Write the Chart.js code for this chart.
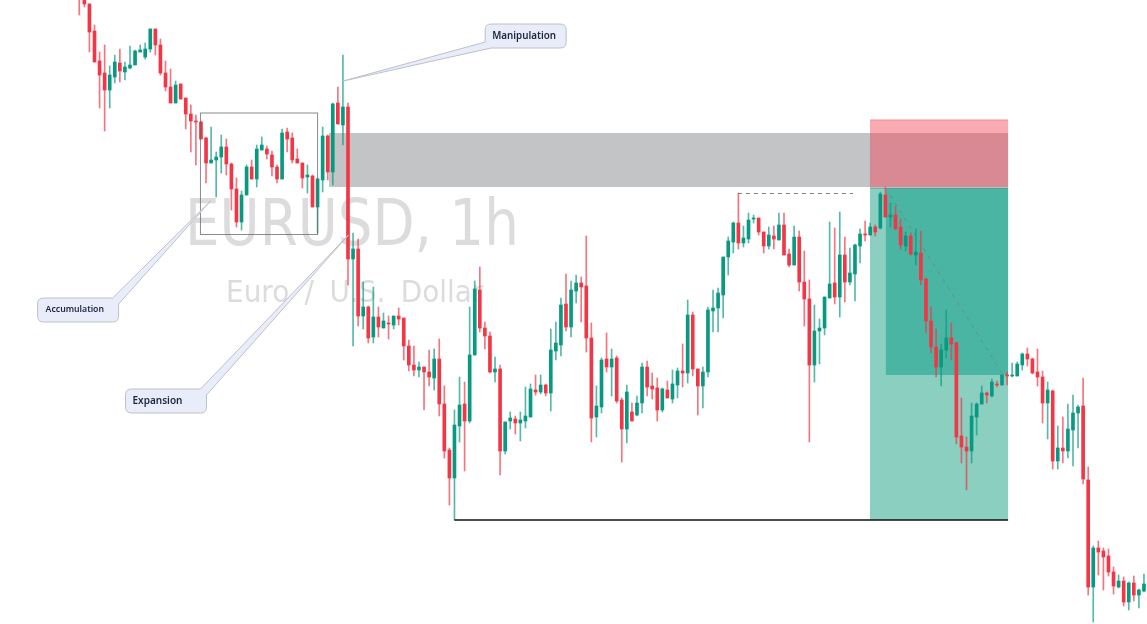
<!DOCTYPE html>
<html>
<head>
<meta charset="utf-8">
<title>EURUSD, 1h</title>
<script src="https://cdn.jsdelivr.net/npm/chart.js@4"></script>
<style>
    html, body { margin: 0; padding: 0; background: #ffffff; overflow: hidden; }
    canvas { display: block; }
</style>
</head>
<body>
<canvas id="priceChart" width="1147" height="624"></canvas>
<script>
// Candles in points above the lowest level of the window, one entry per hour
const opens = [
    644,629,620,593,563,551,534,547,561,552,
    556,559,572,567,575,595,579,551,537,521,
    540,526,510,503,502,486,461,464,467,477,
    460,435,402,429,457,445,474,475,469,457,
    445,492,486,465,461,447,448,417,444,488,
    452,521,499,517,365,375,308,317,287,307,
    296,301,299,308,306,278,259,254,257,252,
    246,265,220,174,146,198,220,203,269,334,
    296,288,252,255,173,203,205,201,203,207,
    234,232,239,231,273,279,320,297,333,341,
    338,286,207,217,265,257,266,224,195,212,
    209,221,257,238,236,214,234,225,239,253,
    251,309,255,238,252,313,316,329,367,382,
    401,381,385,405,406,392,378,388,384,399,
    370,359,387,342,325,259,293,296,326,341,
    327,369,342,350,378,390,389,397,396,429,
    407,409,397,378,388,369,371,345,303,277,
    257,274,286,281,188,177,173,207,220,231,
    228,240,239,249,248,248,259,270,265,252,
    247,221,233,163,176,173,194,211,218,144,
    37,76,73,68,52,37,43,22,41,29,
    33
];
const highs = [
    644,629,620,599,572,579,558,569,575,562,
    578,574,579,581,595,595,585,563,555,543,
    540,526,519,509,503,487,497,472,489,485,
    461,446,433,459,464,479,487,478,473,459,
    495,496,491,475,461,459,449,446,497,489,
    521,537,569,521,391,385,342,318,337,317,
    311,308,308,316,306,284,278,262,257,274,
    275,285,238,176,214,247,242,317,343,357,
    302,292,267,259,202,212,208,212,237,240,
    249,249,240,295,302,326,350,343,349,347,
    388,301,238,266,291,275,268,226,239,221,
    228,261,263,251,246,236,243,254,256,280,
    324,312,255,257,317,334,336,367,387,402,
    431,398,411,409,406,392,397,398,411,411,
    375,398,393,373,344,319,305,327,402,396,
    412,387,376,380,395,403,401,399,432,437,
    421,418,405,392,391,395,393,346,317,295,
    280,314,301,282,226,187,221,221,238,232,
    245,243,249,252,261,262,271,276,266,275,
    253,242,234,198,207,220,229,219,246,157,
    78,83,76,75,57,49,47,42,48,35,
    50
];
const lows = [
    609,617,572,562,516,493,516,541,542,544,
    555,559,572,565,572,569,549,533,521,521,
    525,495,472,459,485,441,461,427,451,449,
    414,397,394,429,445,437,474,465,448,441,
    445,472,461,461,436,431,417,391,432,444,
    439,500,479,339,278,298,295,281,281,287,
    296,285,295,299,264,253,248,247,214,238,
    234,208,166,119,104,182,153,201,269,292,
    275,251,242,149,170,195,190,183,196,207,
    229,230,228,213,264,268,293,287,321,302,
    272,182,187,211,252,228,221,162,181,203,
    208,211,228,225,203,212,226,221,226,237,
    241,248,209,216,247,292,292,306,349,371,
    375,377,381,401,389,371,375,375,384,369,
    357,359,333,298,182,242,260,289,326,320,
    307,322,339,323,361,383,389,388,395,407,
    397,395,375,373,369,359,339,291,271,247,
    238,266,264,180,161,134,161,189,220,221,
    227,237,239,239,247,248,254,258,250,238,
    201,185,155,155,161,166,158,176,140,29,
    2,49,34,48,30,36,18,14,23,16,
    32
];
const closes = [
    629,620,592,562,549,534,549,562,553,557,
    559,573,574,575,595,579,551,537,521,539,
    525,510,503,502,485,461,464,467,477,460,
    435,402,429,457,445,475,479,470,457,445,
    491,485,464,461,446,449,417,445,488,452,
    520,500,517,365,375,308,317,286,307,297,
    303,300,308,305,278,259,254,257,252,247,
    265,220,173,146,199,219,203,269,335,296,
    288,252,255,173,202,206,201,204,208,235,
    232,239,231,274,281,319,297,334,341,337,
    286,206,218,264,257,265,223,195,232,203,
    221,257,237,235,214,235,226,240,253,251,
    309,255,238,252,314,316,331,367,383,401,
    381,386,404,406,392,378,389,385,399,369,
    359,387,342,325,259,293,296,327,340,327,
    369,342,351,379,390,389,397,392,430,407,
    409,395,379,388,370,372,344,303,277,257,
    274,286,280,187,177,173,208,220,231,229,
    242,239,249,248,249,260,270,265,251,247,
    221,234,163,176,173,195,211,217,145,37,
    76,72,67,52,38,43,22,41,29,34,
    40
];

const UP = '#089981';
const DOWN = '#f23645';

const candleColors = closes.map((c, i) => (c >= opens[i] ? UP : DOWN));
const wickColors = candleColors.map(c => c + 'b0');
const wickData = highs.map((h, i) => ({ x: i, y: [lows[i], h] }));
const bodyData = opens.map((o, i) => ({ x: i, y: [o, closes[i]] }));

// Drawing tools, placed by candle number and price level
const manipulation = { text: 'Manipulation', size: 9.8, pad: 7, bar: 52.05, level: 543, dx: 142, dy: -57 };
const accumulation = { text: 'Accumulation', size: 8.7, pad: 8, bar: 25.9, level: 423, dx: -173, dy: 97 };
const expansion = { text: 'Expansion', size: 10, pad: 7, bar: 53.1, level: 389, dx: -223, dy: 154 };

function rect(ctx, x, y, bar1, bar2, top, bottom, color) {
    ctx.fillStyle = color;
    ctx.fillRect(x.getPixelForValue(bar1), y.getPixelForValue(top),
        x.getPixelForValue(bar2) - x.getPixelForValue(bar1),
        y.getPixelForValue(bottom) - y.getPixelForValue(top));
}

function hline(ctx, x, y, bar1, bar2, level, color, width) {
    ctx.strokeStyle = color;
    ctx.lineWidth = width;
    ctx.beginPath();
    ctx.moveTo(x.getPixelForValue(bar1), y.getPixelForValue(level));
    ctx.lineTo(x.getPixelForValue(bar2), y.getPixelForValue(level));
    ctx.stroke();
}

// Callout box with a thin tail running to its anchor
function callout(ctx, x, y, c) {
    const tipX = x.getPixelForValue(c.bar);
    const tipY = y.getPixelForValue(c.level);
    const left = tipX + c.dx;
    const top = tipY + c.dy;
    const w = 81, h = 24, r = 6;
    const toRight = c.dx > 0;

    ctx.beginPath();
    ctx.moveTo(left + r, top);
    if (!toRight && c.dy > 0) {
        ctx.lineTo(left + w - 6, top);
        ctx.lineTo(tipX, tipY);
        ctx.lineTo(left + w, top + 6);
    } else {
        ctx.lineTo(left + w - r, top);
        ctx.quadraticCurveTo(left + w, top, left + w, top + r);
    }
    ctx.lineTo(left + w, top + h - r);
    ctx.quadraticCurveTo(left + w, top + h, left + w - r, top + h);
    if (toRight) {
        ctx.lineTo(left + 6, top + h);
        ctx.lineTo(tipX, tipY);
        ctx.lineTo(left, top + h - 6);
    } else {
        ctx.lineTo(left + r, top + h);
        ctx.quadraticCurveTo(left, top + h, left, top + h - r);
    }
    ctx.lineTo(left, top + r);
    ctx.quadraticCurveTo(left, top, left + r, top);
    ctx.closePath();
    ctx.fillStyle = '#e8edf9';
    ctx.fill();
    ctx.strokeStyle = '#bcc0cc';
    ctx.lineWidth = 1;
    ctx.stroke();

    ctx.fillStyle = '#1c2540';
    ctx.font = '600 ' + c.size + 'px "Noto Sans"';
    ctx.textAlign = 'left';
    ctx.textBaseline = 'middle';
    ctx.fillText(c.text, left + c.pad, top + h / 2);
}

const drawings = {
    id: 'drawings',
    beforeDatasetsDraw(chart) {
        const { ctx, scales: { x, y } } = chart;
        ctx.save();

        // Symbol watermark, squeezed a little to the width of the original face
        ctx.fillStyle = '#dcdcdc';
        ctx.textAlign = 'left';
        ctx.textBaseline = 'alphabetic';
        ctx.save();
        ctx.translate(185, 245);
        ctx.scale(0.855, 1);
        ctx.font = '64px "DejaVu Sans"';
        ctx.fillText('EURUSD, 1h', 0, 0);
        ctx.restore();
        ctx.save();
        ctx.translate(226, 302);
        ctx.scale(0.93, 1);
        ctx.font = '30px "DejaVu Sans"';
        ctx.wordSpacing = '7px';
        ctx.fillText('Euro / U.S. Dollar', 0, 0);
        ctx.wordSpacing = '0px';
        ctx.restore();

        // Supply zone
        rect(ctx, x, y, 49.25, 183.2, 491, 437, '#c3c4c6');

        // Short position tool: stop on top, target below
        rect(ctx, x, y, 155.96, 183.2, 504, 437, 'rgba(244, 67, 84, 0.45)');
        rect(ctx, x, y, 155.96, 183.2, 436, 104, '#8acfc0');
        rect(ctx, x, y, 159.1, 183.2, 436, 249, '#4bb5a3');
        hline(ctx, x, y, 155.96, 183.2, 504, '#f58a95', 1);
        hline(ctx, x, y, 155.96, 183.2, 436, '#5d8f88', 1);

        ctx.restore();
    },
    afterDatasetsDraw(chart) {
        const { ctx, scales: { x, y } } = chart;
        ctx.save();

        // Accumulation box
        ctx.strokeStyle = 'rgba(100, 100, 100, 0.75)';
        ctx.lineWidth = 1;
        const bx1 = x.getPixelForValue(23.9);
        const bx2 = x.getPixelForValue(47);
        const by1 = y.getPixelForValue(511);
        const by2 = y.getPixelForValue(389.5);
        ctx.strokeRect(bx1, by1, bx2 - bx1, by2 - by1);

        // Target line under the move
        hline(ctx, x, y, 74, 183.2, 104, '#111111', 1.5);

        // Old high
        ctx.setLineDash([4, 4]);
        hline(ctx, x, y, 129.9, 152.6, 430.5, '#808080', 1);

        // Projected path of the trade
        ctx.setLineDash([4, 5]);
        ctx.strokeStyle = 'rgba(110, 120, 125, 0.6)';
        ctx.beginPath();
        ctx.moveTo(x.getPixelForValue(159.9), y.getPixelForValue(429));
        ctx.lineTo(x.getPixelForValue(182.6), y.getPixelForValue(246));
        ctx.stroke();
        ctx.setLineDash([]);

        callout(ctx, x, y, manipulation);
        callout(ctx, x, y, accumulation);
        callout(ctx, x, y, expansion);

        ctx.restore();
    }
};

const ctx = document.getElementById('priceChart').getContext('2d');

new Chart(ctx, {
    type: 'bar',
    data: {
        datasets: [
            {
                data: wickData,
                backgroundColor: wickColors,
                barThickness: 1,
                grouped: false,
                order: 2
            },
            {
                data: bodyData,
                backgroundColor: candleColors,
                barThickness: 3,
                minBarLength: 1,
                grouped: false,
                order: 1
            }
        ]
    },
    options: {
        responsive: false,
        animation: false,
        layout: { padding: 0 },
        scales: {
            x: { type: 'linear', display: false, min: -15.64, max: 210.6, offset: false },
            y: { type: 'linear', display: false, min: 0, max: 624 }
        },
        plugins: {
            legend: { display: false },
            tooltip: { enabled: false }
        }
    },
    plugins: [drawings]
});
</script>
</body>
</html>
